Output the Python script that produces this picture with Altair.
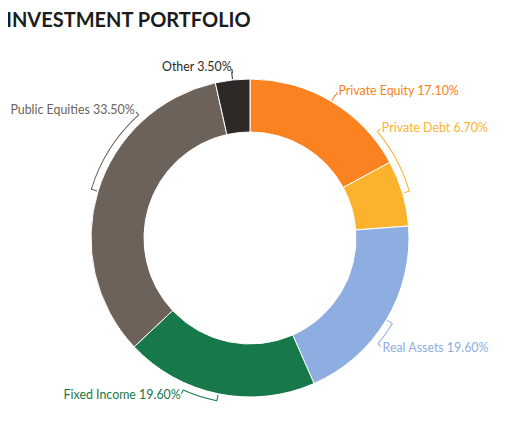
import altair as alt
import pandas as pd

# Portfolio allocation (percent), clockwise from 12 o'clock
CATEGORIES = ["Private Equity", "Private Debt", "Real Assets",
              "Fixed Income", "Public Equities", "Other"]
SHARES = [17.1, 6.7, 19.6, 19.6, 33.5, 3.5]
COLORS = ["#fa8220", "#fbb32e", "#8eaee2", "#17784a", "#6c6259", "#2d2926"]

# where each label sits around the ring (same percent units as the slices)
LABEL_AT = [8.6, 13.9, 36.0, 56.6, 88.3, 98.3]

# Layout
PAD_TOP = 32
CX = 242
CY = 238 - 8 - PAD_TOP
INNER_R = 106
OUTER_R = 159
LEADER_R = 166
TEXT_R = 172

# Build table
df = pd.DataFrame({"category": CATEGORIES, "share": SHARES, "label_at": LABEL_AT})
df["end"] = df["share"].cumsum()
df["start"] = df["end"] - df["share"]
df["mid"] = (df["start"] + df["end"]) / 2
df["lo"] = df[["mid", "label_at"]].min(axis=1)
df["hi"] = df[["mid", "label_at"]].max(axis=1)
df["tick_a"] = df["mid"] - 0.05
df["tick_b"] = df["mid"] + 0.05
df["ltick_a"] = df["label_at"] - 0.05
df["ltick_b"] = df["label_at"] + 0.05
df["text"] = df["category"] + " " + df["share"].map("{:.2f}%".format)

theta_scale = alt.Scale(domain=[0, 100], range=[0, 6.283185307179586])
color_scale = alt.Scale(domain=CATEGORIES, range=COLORS)
center = dict(x=alt.value(CX), y=alt.value(CY))

base = alt.Chart(df)

ring = base.mark_arc(innerRadius=INNER_R, outerRadius=OUTER_R,
                     stroke="white", strokeWidth=1).encode(
    theta=alt.Theta("start:Q", stack=None, scale=theta_scale),
    theta2="end:Q",
    color=alt.Color("category:N", scale=color_scale, legend=None),
    **center
)

# curved leader running along the ring from the slice middle to its label
leader = base.mark_arc(innerRadius=LEADER_R - 0.5, outerRadius=LEADER_R + 0.5).encode(
    theta=alt.Theta("lo:Q", stack=None, scale=theta_scale),
    theta2="hi:Q",
    color=alt.Color("category:N", scale=color_scale, legend=None),
    **center
)

tick_in = base.mark_arc(innerRadius=OUTER_R + 1, outerRadius=LEADER_R + 0.5).encode(
    theta=alt.Theta("tick_a:Q", stack=None, scale=theta_scale),
    theta2="tick_b:Q",
    color=alt.Color("category:N", scale=color_scale, legend=None),
    **center
)

tick_out = base.mark_arc(innerRadius=LEADER_R, outerRadius=TEXT_R - 2).encode(
    theta=alt.Theta("ltick_a:Q", stack=None, scale=theta_scale),
    theta2="ltick_b:Q",
    color=alt.Color("category:N", scale=color_scale, legend=None),
    **center
)

def labels(side_filter, align):
    return base.transform_filter(side_filter).mark_text(
        radius=TEXT_R, align=align, baseline="middle",
        font="Lato", fontSize=12.4
    ).encode(
        theta=alt.Theta("label_at:Q", stack=None, scale=theta_scale),
        text="text:N",
        color=alt.Color("category:N", scale=color_scale, legend=None),
        **center
    )

right_labels = labels(alt.datum.label_at < 50, "left")
left_labels = labels(alt.datum.label_at >= 50, "right")

chart = alt.layer(ring, leader, tick_in, tick_out, right_labels, left_labels).properties(
    width=492,
    height=390,
    padding={"left": 0, "top": PAD_TOP, "right": 0, "bottom": 0},
    autosize=alt.AutoSizeParams(type="none"),
    title=alt.TitleParams(
        "INVESTMENT PORTFOLIO", anchor="start", frame="group",
        font="Lato", fontSize=20, fontWeight="bold", color="#1c1c1c",
        offset=6, dx=-2, dy=-3
    )
).configure_view(stroke=None)

chart.save("out.html", embed_options={"renderer": "svg", "actions": False})
